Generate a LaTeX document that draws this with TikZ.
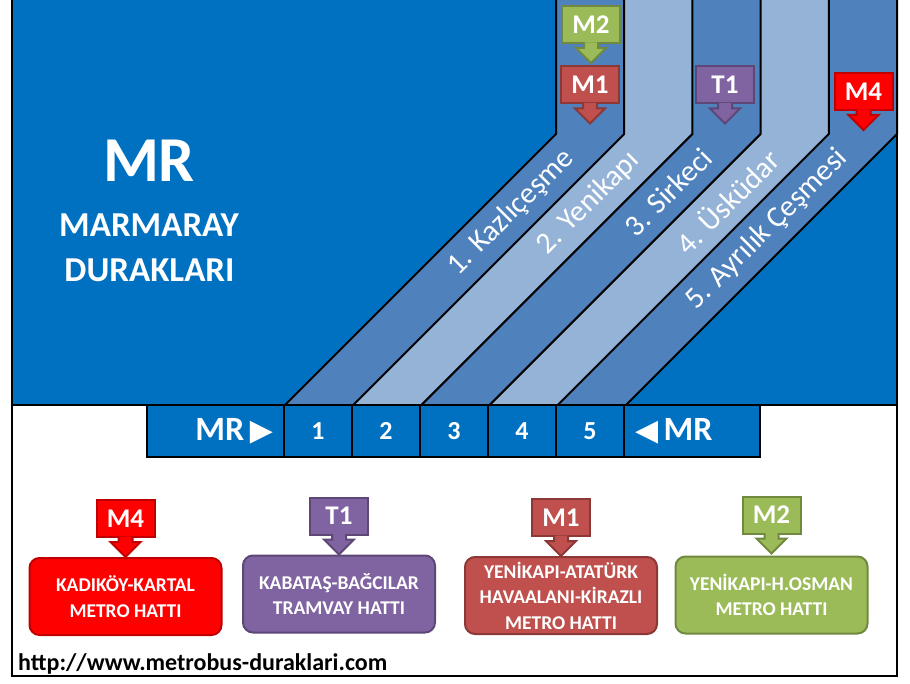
\documentclass[tikz,border=0pt]{standalone}
\usepackage{fontspec}
\setmainfont{Carlito}
\newfontfamily\symfont{DejaVu Sans}
\usetikzlibrary{positioning}

\definecolor{mrBlue}{HTML}{0070C0}
\definecolor{stripeDark}{HTML}{4F81BD}
\definecolor{stripeLight}{HTML}{95B3D7}
\definecolor{greenFill}{HTML}{9BBB59}
\definecolor{greenLine}{HTML}{71893F}
\definecolor{redFill}{HTML}{C0504D}
\definecolor{redLine}{HTML}{8C3836}
\definecolor{purpleFill}{HTML}{8064A2}
\definecolor{purpleLine}{HTML}{5C4776}
\definecolor{brightRed}{HTML}{FF0000}
\definecolor{brightRedLine}{HTML}{C00000}

% line badge: name, placement, fill, line colour, text
\newcommand{\lineBadge}[5]{%
	\node (#1) [badge, fill=#3, draw=#4, #2] {#5};
	\filldraw [fill=#3, draw=#4, line width=2pt] ([xshift=-7pt, yshift=1.5pt]#1.south) -- ++(0,5.5) -- ++(-8,0) -- ++(15,15) -- ++(15,-15) -- ++(-8,0) -- ++(0,-5.5);
}

\begin{document}
\begin{tikzpicture}[x=1pt, y=-1pt]
	\tikzstyle{edge} = [draw=black, line width=2pt, line join=miter]
	\tikzstyle{badge} = [rectangle, minimum width=58pt, minimum height=37pt, inner sep=0pt, line width=2pt, text=white, font=\bfseries\fontsize{27}{27}\selectfont]
	\tikzstyle{legendBox} = [rectangle, rounded corners=10pt, minimum width=192pt, minimum height=77pt, inner sep=0pt, line width=2pt, text=white, align=center, font=\bfseries\fontsize{19.5}{25.5}\selectfont]
	\tikzstyle{cell} = [rectangle, draw=black, fill=mrBlue, line width=2pt, outer sep=0pt, minimum width=68pt, minimum height=52pt, inner ysep=0pt, text=white, font=\bfseries\fontsize{26}{26}\selectfont]
	\tikzstyle{stopName} = [rotate=45, text=white, inner sep=0pt, font=\fontsize{30}{30}\selectfont]
	\tikzstyle{title} = [text=white, inner sep=0pt]
	\useasboundingbox (0,0) rectangle (910,684);
	\fill [white] (0,0) rectangle (910,684);
	\fill [mrBlue] (12,0) rectangle (897,405);
	% stripes
	\foreach \i/\col in {0/stripeDark,1/stripeLight,2/stripeDark,3/stripeLight,4/stripeDark}
		\fill [\col] ({556+68.2*\i},0) -- ({556+68.2*\i},134) -- ({285+68.2*\i},405) -- ({353.2+68.2*\i},405) -- ({624.2+68.2*\i},134) -- ({624.2+68.2*\i},0) -- cycle;
	\foreach \i in {0,...,5}
		\draw [edge] ({556+68.2*\i},0) -- ({556+68.2*\i},134) -- ({285+68.2*\i},405);
	\draw [edge] (12,405) -- (897,405);
	\draw [edge, line width=2.5pt] (12,0) -- (12,676) -- (897,676) -- (897,0);
	% title
	\node (mrTitle) [title, font=\bfseries\fontsize{64}{64}\selectfont] at (149,161) {MR};
	\node (mrName1) [title, font=\bfseries\fontsize{35}{35}\selectfont] at (149,225) {MARMARAY};
	\node (mrName2) [title, font=\bfseries\fontsize{35}{35}\selectfont] at (149.5,270) {DURAKLARI};
	% stop names
	\node (kazlicesme) [stopName] at (511,212.5) {1. Kazlıçeşme};
	\node (yenikapi) [stopName] at (588.5,203) {2. Yenikapı};
	\node (sirkeci) [stopName] at (668,192) {3. Sirkeci};
	\node (uskudar) [stopName] at (727,201) {4. Üsküdar};
	\node (ayrilik) [stopName] at (767,229.5) {5. Ayrılık Çeşmesi};
	% stop bar
	\node (mrIn) [cell, anchor=north west, text width=115pt, inner xsep=11pt, align=right, font=\bfseries\fontsize{34}{34}\selectfont] at (147,405) {MR\,{\symfont\fontsize{30}{30}\selectfont ▶}};
	\node (stop1) [cell, right=0pt of mrIn] {1};
	\node (stop2) [cell, right=0pt of stop1] {2};
	\node (stop3) [cell, right=0pt of stop2] {3};
	\node (stop4) [cell, right=0pt of stop3] {4};
	\node (stop5) [cell, right=0pt of stop4] {5};
	\node (mrOut) [cell, right=0pt of stop5, text width=114pt, inner xsep=11pt, align=left, font=\bfseries\fontsize{34}{34}\selectfont] {{\symfont\fontsize{30}{30}\selectfont ◀}\,MR};
	% badges on the stripes
	\lineBadge{topM2}{at={(591,24.5)}}{greenFill}{greenLine}{M2}
	\lineBadge{topM1}{at={(590,85)}}{redFill}{redLine}{M1}
	\lineBadge{topT1}{at={(725,85)}}{purpleFill}{purpleLine}{T1}
	\lineBadge{topM4}{at={(863.5,91.5)}}{brightRed}{brightRedLine}{M4}
	% legend
	\node (lgM4) [legendBox, fill=brightRed, draw=brightRedLine] at (125.5,596.5) {KADIKÖY-KARTAL\\METRO HATTI};
	\node (lgT1) [legendBox, fill=purpleFill, draw=purpleLine] at (339,594) {KABATAŞ-BAĞCILAR\\TRAMVAY HATTI};
	\node (lgM1) [legendBox, fill=redFill, draw=redLine] at (561,595.5) {YENİKAPI-ATATÜRK\\HAVAALANI-KİRAZLI\\METRO HATTI};
	\node (lgM2) [legendBox, fill=greenFill, draw=greenLine] at (771.5,595) {YENİKAPI-H.OSMAN\\METRO HATTI};
	\lineBadge{keyM4}{above=19pt of lgM4}{brightRed}{brightRedLine}{M4}
	\lineBadge{keyT1}{above=19pt of lgT1}{purpleFill}{purpleLine}{T1}
	\lineBadge{keyM1}{above=19pt of lgM1}{redFill}{redLine}{M1}
	\lineBadge{keyM2}{above=21pt of lgM2}{greenFill}{greenLine}{M2}
	% footer
	\node (siteUrl) [anchor=base west, inner sep=0pt, font=\bfseries\fontsize{24}{24}\selectfont] at (18,670) {http://www.metrobus-duraklari.com};
\end{tikzpicture}
\end{document}
